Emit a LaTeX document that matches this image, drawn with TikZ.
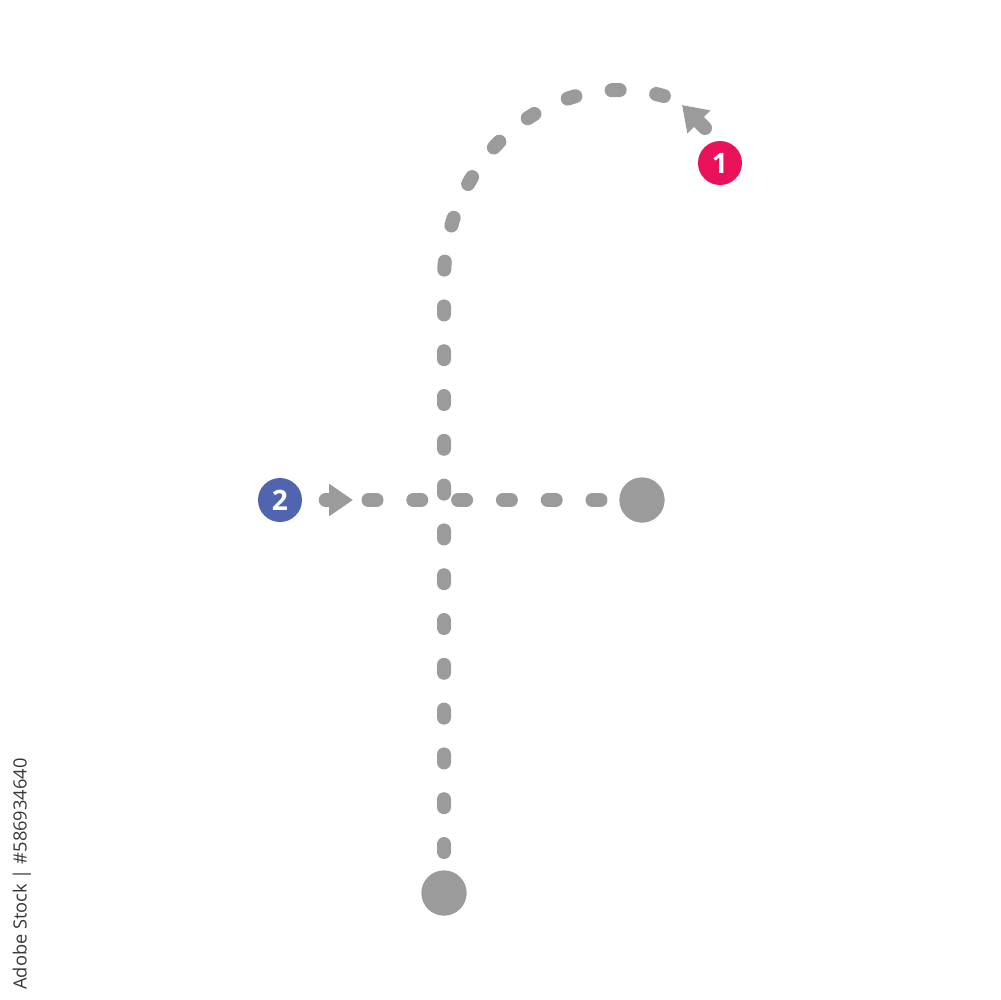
\documentclass[tikz,border=0pt]{standalone}
\usepackage{fontspec}
\setsansfont{Open Sans}
\usetikzlibrary{arrows.meta, positioning}
\definecolor{guidegray}{RGB}{155,155,155}
\definecolor{stepone}{RGB}{233,17,90}
\definecolor{steptwo}{RGB}{80,100,175}
\definecolor{idgray}{RGB}{55,55,55}

\begin{document}
\begin{tikzpicture}[x=0.1mm, y=-0.1mm]
    \tikzstyle{guide} = [draw=guidegray, line width=1.4mm, line cap=round, dash pattern=on 0.8mm off 3.68mm]
    \tikzstyle{arrow} = [draw=guidegray, line width=1.4mm, line cap=round, -{Triangle[length=2.4mm, width=3.1mm]}]
    \tikzstyle{dot} = [circle, fill=guidegray, minimum size=4.5mm, inner sep=0pt]
    \tikzstyle{badge} = [circle, minimum size=4.4mm, inner sep=0pt, text=white, font=\sffamily\bfseries\fontsize{8}{8}\selectfont]

    \useasboundingbox (0,0) rectangle (1000,1000);

    % badges and end dots
    \node[badge, fill=stepone] (b1) at (720,163) {1};
    \node[badge, fill=steptwo] (b2) at (280,500) {2};
    \node[dot] (end1) at (444,893) {};
    \node[dot] (end2) at (642,500) {};

    % stroke 1: arc over the top, then straight down
    \coordinate (arr1tail) at (705,128);
    \coordinate (arr1tip) at (682,105);
    \coordinate (start1) at (444,852);
    \coordinate (bend1) at (444,280);
    \draw[arrow] (arr1tail) -- (arr1tip);
    \draw[guide] (start1) -- (bend1) arc[start angle=180, end angle=286, x radius=176, y radius=190];

    % stroke 2: the cross bar
    \coordinate (arr2tail) at ([xshift=2.3mm]b2.east);
    \coordinate (arr2tip) at (353,500);
    \coordinate (start2) at (368.5,500);
    \draw[arrow] (arr2tail) -- (arr2tip);
    \draw[guide] (start2) -- (end2.center);

    % dots on top of the dashes
    \node[dot] at (end1) {};
    \node[dot] at (end2) {};

    \node[rotate=90, text=idgray, font=\sffamily\fontsize{5.2}{6}\selectfont] (stockid) at (22,874) {Adobe Stock | \#586934640};
\end{tikzpicture}
\end{document}
